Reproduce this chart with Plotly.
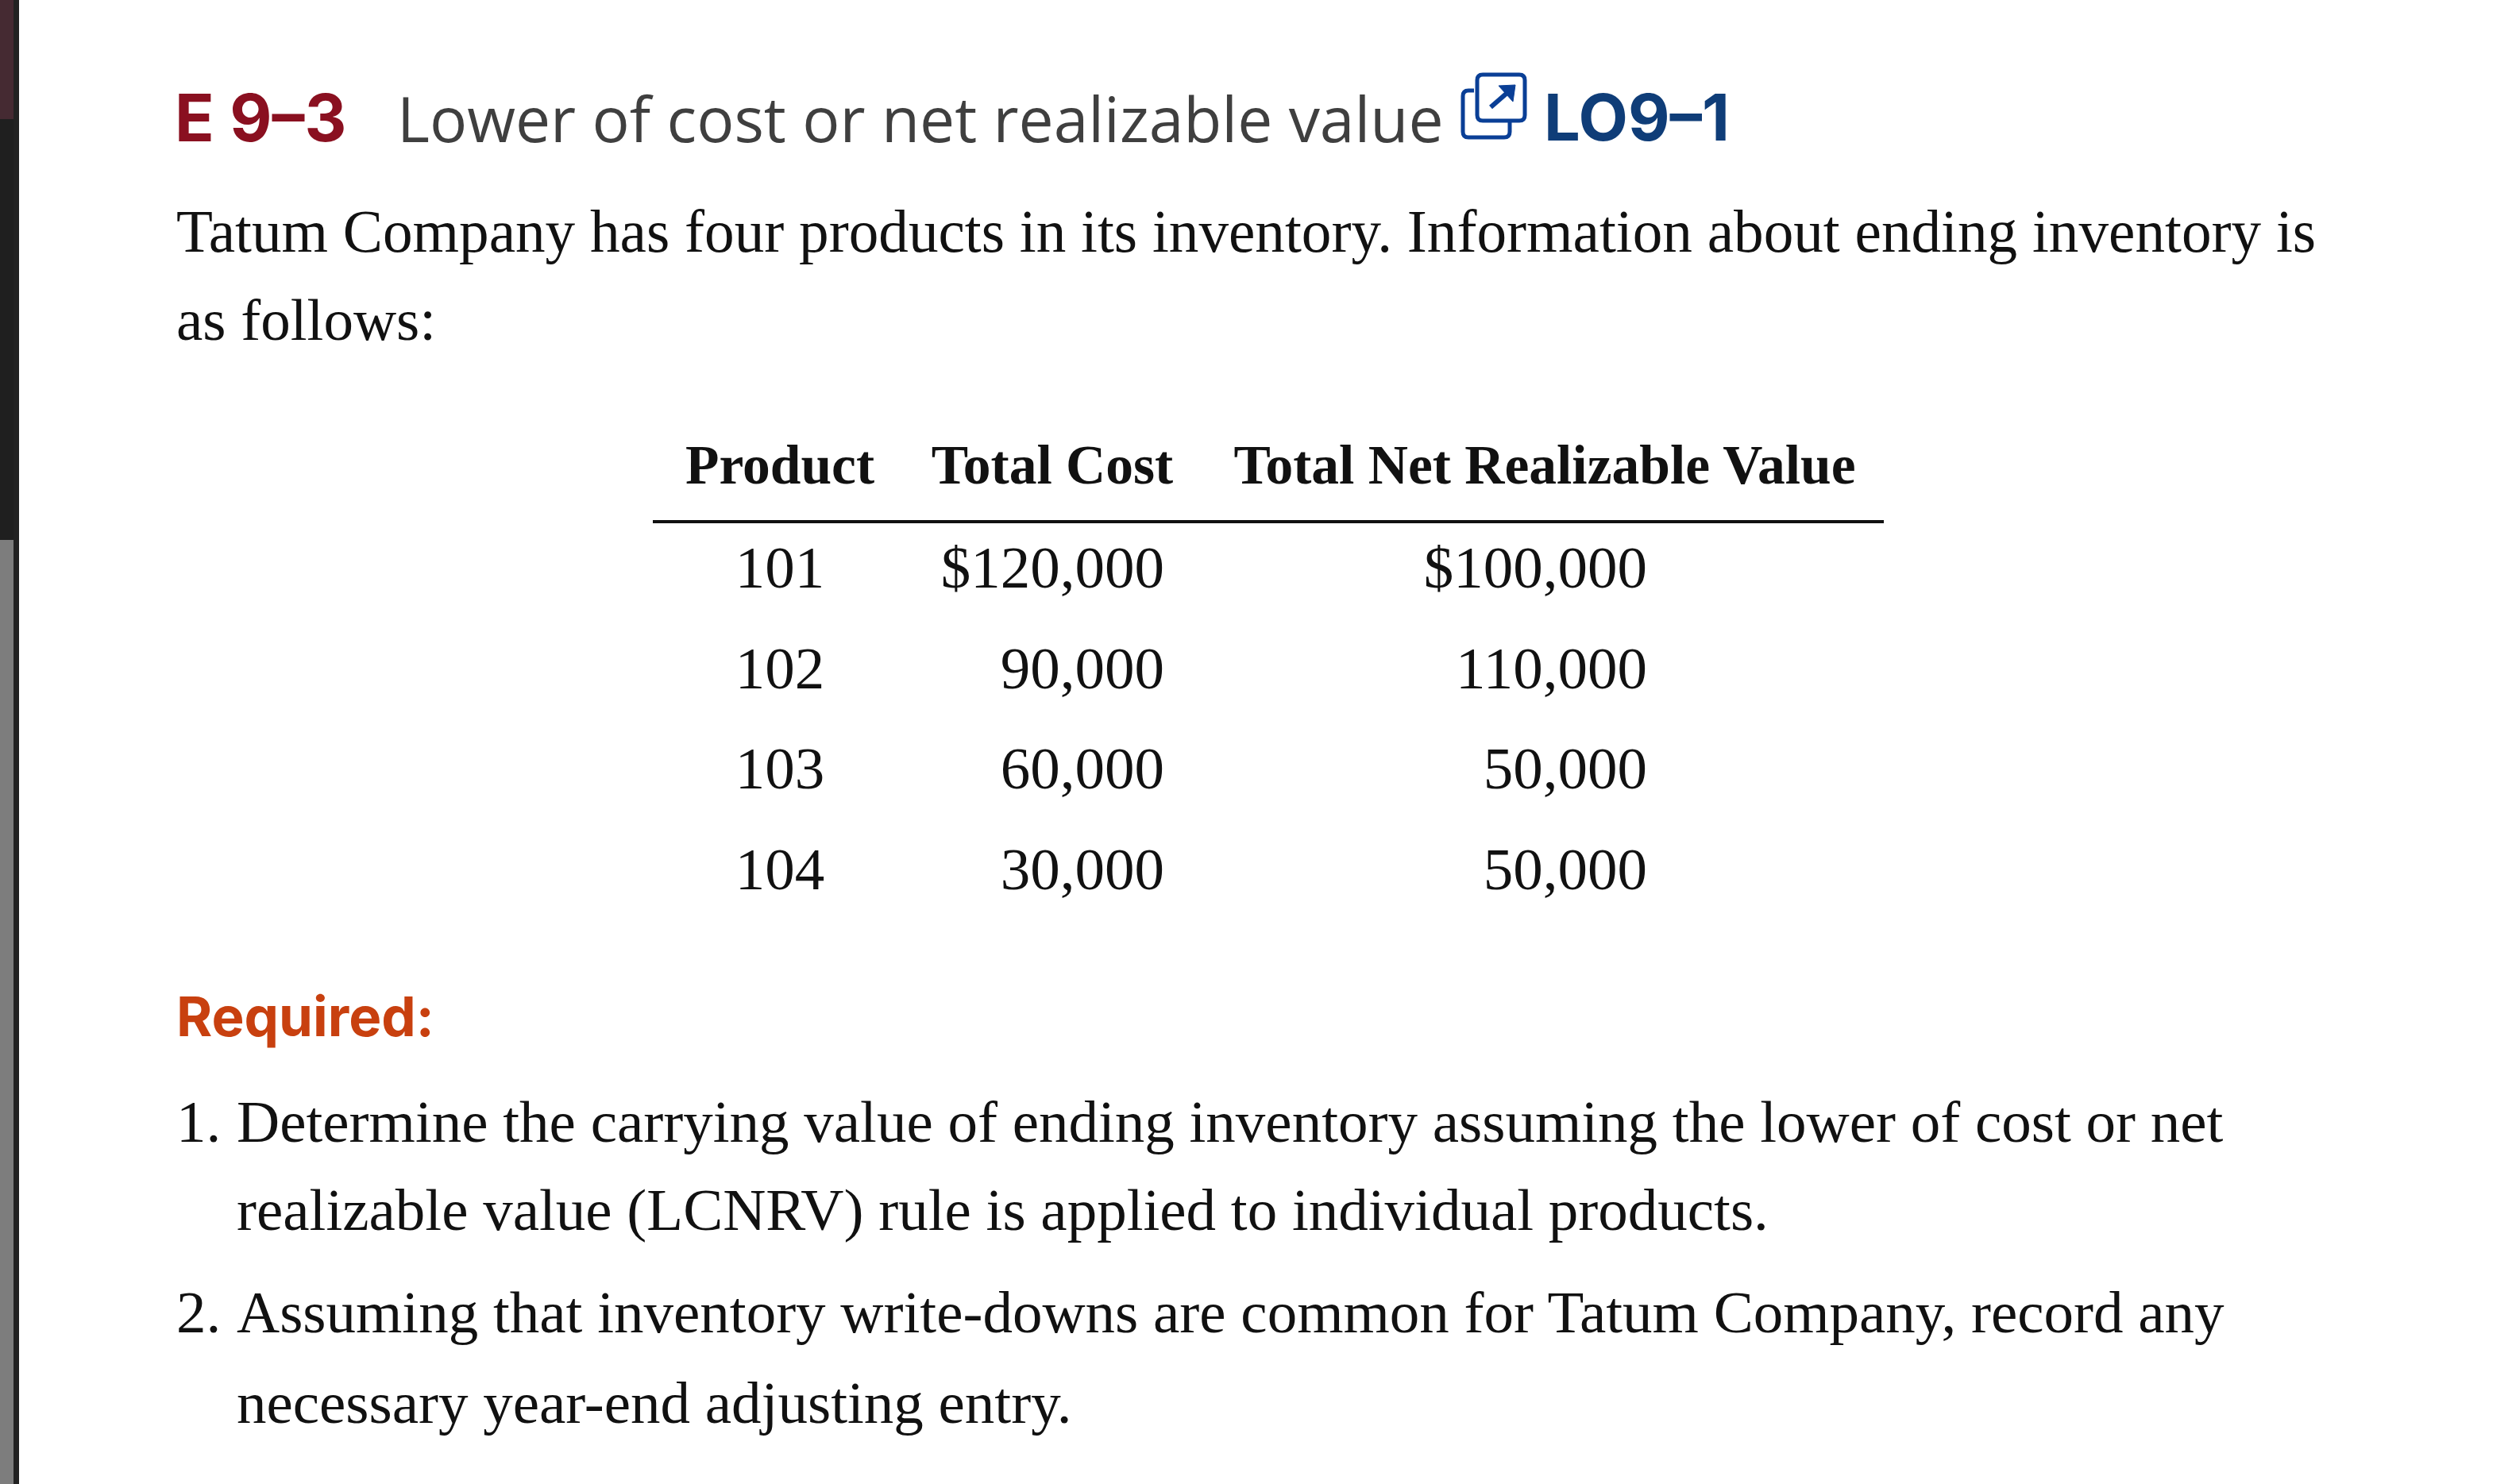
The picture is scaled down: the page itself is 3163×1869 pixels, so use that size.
import plotly.graph_objects as go

# table values
products = ["101", "102", "103", "104"]
total_cost = [120000, 90000, 60000, 30000]
total_nrv = [100000, 110000, 50000, 50000]
table_headers = ["Product", "Total Cost", "Total Net Realizable Value"]

intro_lines = [
    "Tatum Company has four products in its inventory. Information about ending inventory is",
    "as follows:",
]
required_lines = [
    "Determine the carrying value of ending inventory assuming the lower of cost or net",
    "realizable value (LCNRV) rule is applied to individual products.",
    "Assuming that inventory write-downs are common for Tatum Company, record any",
    "necessary year-end adjusting entry.",
]

SERIF = "Liberation Serif"
SANS = "Open Sans"
BOLD_SANS = "Inter"
BODY = 75
W, H = 3163, 1869
BLUE = "#0a3f96"


def money(vals):
    return [("$" if i == 0 else "") + f"{v:,}" for i, v in enumerate(vals)]


row_y = [721, 848, 974, 1101]

fig = go.Figure()

# table columns
fig.add_trace(go.Scatter(x=[982] * 4, y=row_y, text=products, mode="text",
                         textposition="middle center",
                         textfont=dict(family=SERIF, size=BODY, color="#111111")))
fig.add_trace(go.Scatter(x=[1466] * 4, y=row_y, text=money(total_cost), mode="text",
                         textposition="middle left",
                         textfont=dict(family=SERIF, size=BODY, color="#111111")))
fig.add_trace(go.Scatter(x=[2074] * 4, y=row_y, text=money(total_nrv), mode="text",
                         textposition="middle left",
                         textfont=dict(family=SERIF, size=BODY, color="#111111")))
fig.add_trace(go.Scatter(x=[982, 1325, 1945], y=[592] * 3, text=["<b>%s</b>" % t for t in table_headers],
                         mode="text", textposition="middle center",
                         textfont=dict(family=SERIF, size=69.5, color="#111111")))


def label(x, y, text, size, color, family=SERIF, anchor="left"):
    fig.add_annotation(x=x, y=y, xref="x", yref="y", text=text, showarrow=False,
                       xanchor=anchor, yanchor="middle",
                       font=dict(family=family, size=size, color=color))


# heading
label(218, 148, "<b>E 9–3</b>", 82, "#8a1020", BOLD_SANS)
label(498, 148, "Lower of cost or net realizable value", 78.5, "#3f3f3f", SANS)
label(1942, 148, "<b>LO9–1</b>", 81, "#0f3d78", BOLD_SANS)

label(220, 291, intro_lines[0], 75.2, "#111111")
label(220, 402, intro_lines[1], BODY, "#111111")

label(220, 1280, "<b>Required:</b>", 69, "#c8400f", BOLD_SANS)

label(280, 1412, "1.", BODY, "#111111", anchor="right")
label(296, 1412, required_lines[0], BODY, "#111111")
label(296, 1523, required_lines[1], BODY, "#111111")
label(280, 1652, "2.", BODY, "#111111", anchor="right")
label(296, 1652, required_lines[2], BODY, "#111111")
label(296, 1766, required_lines[3], BODY, "#111111")

# window edge at the left
fig.add_shape(type="rect", x0=0, x1=17, y0=0, y1=150, fillcolor="#452a32", line_width=0)
fig.add_shape(type="rect", x0=0, x1=17, y0=150, y1=680, fillcolor="#1f1f1f", line_width=0)
fig.add_shape(type="rect", x0=0, x1=17, y0=680, y1=H, fillcolor="#7d7d7d", line_width=0)
fig.add_shape(type="rect", x0=17, x1=24, y0=0, y1=H, fillcolor="#222222", line_width=0)

# rule under the table header
fig.add_shape(type="line", x0=822, x1=2372, y0=657, y1=657, line=dict(color="#111111", width=4))

# external link icon beside the heading
fig.add_shape(type="path", path="M 1856 114 L 1849 114 Q 1842 114 1842 121 L 1842 166 Q 1842 173 1849 173 "
              "L 1894 173 Q 1901 173 1901 166 L 1901 154", line=dict(color=BLUE, width=5))
fig.add_shape(type="path", path="M 1867 94 L 1913 94 Q 1920 94 1920 101 L 1920 145 Q 1920 152 1913 152 "
              "L 1867 152 Q 1860 152 1860 145 L 1860 101 Q 1860 94 1867 94 Z", line=dict(color=BLUE, width=5))
fig.add_shape(type="line", x0=1877, x1=1900, y0=135, y1=115, line=dict(color=BLUE, width=6))
fig.add_shape(type="path", path="M 1887 108 L 1908 107 L 1905 128 Z", fillcolor=BLUE, line=dict(color=BLUE, width=1))

fig.update_xaxes(range=[0, W], visible=False)
fig.update_yaxes(range=[H, 0], visible=False)
fig.update_layout(width=W, height=H, margin=dict(l=0, r=0, t=0, b=0), showlegend=False,
                  paper_bgcolor="white", plot_bgcolor="white")

# the page's default body margin would push the figure off the window
fig.write_html("out.html", config={"displayModeBar": False},
               post_script="document.body.style.margin='0';document.body.style.overflow='hidden';")
